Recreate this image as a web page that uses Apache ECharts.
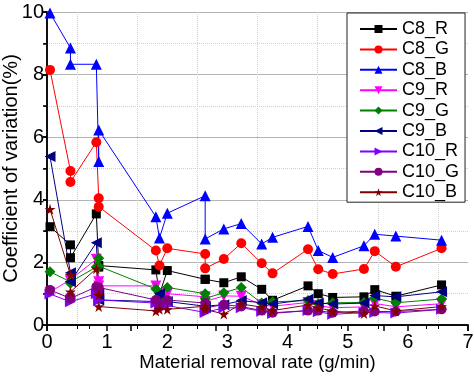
<!DOCTYPE html>
<html>
<head>
<meta charset="utf-8">
<script src="https://cdn.jsdelivr.net/npm/echarts@6/dist/echarts.min.js"></script>
<style>
  html, body { margin: 0; padding: 0; background: #fff; }
  #chart { width: 474px; height: 376px; }
</style>
</head>
<body>
<div id="chart"></div>
<script>
// material removal rate (g/min), shared by all series
const xs = [0.05, 0.39, 0.39, 0.82, 0.86, 0.86, 1.81, 1.87, 2.0, 2.63, 2.63, 2.94,
            3.23, 3.57, 3.75, 4.34, 4.51, 4.75, 5.27, 5.45, 5.8, 6.56];

const c8R  = [3.14, 2.56, 2.15, 3.55, 1.9, 1.85, 1.76, 0.98, 1.74, 1.46, 1.46, 1.35,
              1.54, 1.14, 0.79, 1.25, 1.0, 0.88, 0.9, 1.13, 0.92, 1.28];
const c8G  = [8.15, 4.92, 4.57, 5.84, 4.05, 3.78, 2.38, 1.9, 2.45, 2.27, 1.81, 2.11,
              2.61, 1.97, 1.65, 2.42, 1.78, 1.63, 1.79, 2.36, 1.86, 2.45];
const c8B  = [9.97, 8.85, 8.33, 8.33, 5.22, 6.23, 3.46, 2.78, 3.57, 4.13, 2.75, 3.07,
              3.24, 2.59, 2.8, 3.15, 2.38, 2.16, 2.53, 2.9, 2.84, 2.71];
const c9R  = [1.05, 1.45, 1.4, 2.1, 1.38, 1.25, 1.25, 0.9, 1.0, 0.9, 0.75, 0.93,
              0.92, 0.65, 0.6, 0.72, 0.62, 0.55, 0.58, 0.69, 0.58, 0.68];
const c9G  = [1.7, 1.38, 1.33, 1.85, 2.13, 1.88, 1.15, 0.8, 1.2, 1.0, 0.85, 1.03,
              1.2, 0.7, 0.74, 0.78, 0.68, 0.71, 0.72, 0.86, 0.71, 0.83];
const c9B  = [5.38, 1.67, 1.38, 2.63, 1.0, 0.8, 0.75, 1.0, 0.75, 0.6, 0.55, 0.65,
              0.78, 0.71, 0.67, 0.82, 0.7, 0.67, 0.7, 0.94, 0.9, 1.06];
const c10R = [0.99, 0.74, 0.8, 1.0, 0.8, 0.78, 0.7, 0.55, 0.62, 0.4, 0.45, 0.55,
              0.55, 0.44, 0.37, 0.46, 0.42, 0.34, 0.4, 0.4, 0.38, 0.5];
const c10G = [1.12, 0.85, 0.9, 1.22, 1.12, 1.2, 0.8, 0.65, 0.8, 0.7, 0.55, 0.65,
              0.59, 0.46, 0.39, 0.46, 0.46, 0.39, 0.45, 0.43, 0.43, 0.5];
const c10B = [3.7, 1.6, 1.06, 1.8, 0.95, 0.59, 0.45, 0.5, 0.5, 0.6, 0.5, 0.35,
              0.67, 0.57, 0.46, 0.64, 0.55, 0.44, 0.37, 0.61, 0.45, 0.59];

const names = ['C8_R', 'C8_G', 'C8_B', 'C9_R', 'C9_G', 'C9_B', 'C10_R', 'C10_G', 'C10_B'];
const values = [c8R, c8G, c8B, c9R, c9G, c9B, c10R, c10G, c10B];
const colors = ['#000000', '#ff0000', '#0000ff', '#ff00ff', '#008000', '#000080', '#8000ff', '#800080', '#800000'];

const star = 'path://M50,0 L61,35 L98,35 L68,57 L79,91 L50,70 L21,91 L32,57 L2,35 L39,35 Z';
const symbols = ['rect', 'circle', 'triangle', 'triangle', 'diamond', 'triangle', 'triangle', 'circle', star];
const rotations = [0, 0, 0, 180, 0, 90, -90, 0, 0];
const sizes = [9, 10, 11, 11, 11, 11, 11, 10, 11];

const font = 'Liberation Sans';
const chart = echarts.init(document.getElementById('chart'));

const series = names.map((name, k) => ({
  name: name,
  type: 'line',
  data: xs.map((x, i) => [x, values[k][i]]),
  symbol: symbols[k],
  symbolRotate: rotations[k],
  symbolSize: sizes[k],
  showAllSymbol: true,
  color: colors[k],
  lineStyle: { width: 1, color: colors[k] },
  itemStyle: { color: colors[k] }
}));

chart.setOption({
  animation: false,
  textStyle: { fontFamily: font },
  grid: { left: 47, right: 6, top: 12, bottom: 51, containLabel: false, outerBoundsMode: 'none' },
  legend: {
    orient: 'vertical',
    left: 347,
    top: 13,
    width: 110,
    padding: [7, 6, 1, 12],
    itemWidth: 37,
    itemHeight: 10,
    itemGap: 2.4,
    borderColor: '#222',
    borderWidth: 1,
    backgroundColor: '#fff',
    textStyle: { fontSize: 18, color: '#000', fontFamily: font, lineHeight: 17 },
    data: names
  },
  xAxis: [{
    type: 'value',
    min: 0, max: 7, interval: 1,
    name: 'Material removal rate (g/min)',
    nameLocation: 'middle',
    nameGap: 28,
    nameMoveOverlap: false,
    nameTextStyle: { fontSize: 18.5, color: '#000', fontFamily: font },
    axisLine: { lineStyle: { color: '#000', width: 1.5 } },
    axisTick: { inside: false, length: 6, lineStyle: { color: '#000', width: 1.5 } },
    minorTick: { show: true, splitNumber: 2, length: 4, lineStyle: { color: '#000', width: 1 } },
    axisLabel: { fontSize: 20, color: '#000', margin: 7, fontFamily: font },
    splitLine: { show: false },
    minorSplitLine: { show: true, lineStyle: { color: '#d0d0d0', type: 'dotted', width: 1 } }
  }, {
    type: 'value',
    position: 'top',
    min: 0, max: 10, interval: 2,
    axisLine: { lineStyle: { color: '#000', width: 1.5 } },
    axisTick: { inside: true, length: 6, lineStyle: { color: '#000', width: 1.5 } },
    minorTick: { show: true, splitNumber: 2, length: 4, lineStyle: { color: '#000' } },
    axisLabel: { show: false },
    splitLine: { show: false }
  }],
  yAxis: [{
    type: 'value',
    min: 0, max: 10, interval: 2,
    name: 'Coefficient of variation(%)',
    nameLocation: 'middle',
    nameGap: 26,
    nameMoveOverlap: false,
    nameTextStyle: { fontSize: 20, color: '#000', fontFamily: font },
    axisLine: { show: true, lineStyle: { color: '#000', width: 1.5 } },
    axisTick: { show: true, inside: false, length: 4, lineStyle: { color: '#000', width: 1.5 } },
    minorTick: { show: true, splitNumber: 2, length: 3, lineStyle: { color: '#000' } },
    axisLabel: { fontSize: 20, color: '#000', margin: 3, fontFamily: font },
    splitLine: { show: true, lineStyle: { color: '#b4b4b4', width: 1.2 } },
    minorSplitLine: { show: true, lineStyle: { color: '#d0d0d0', type: 'dotted', width: 1 } }
  }, {
    type: 'value',
    position: 'right',
    min: 0, max: 10, interval: 1,
    axisLine: { show: true, lineStyle: { color: '#000', width: 1.5 } },
    axisTick: { show: true, inside: true, length: 4, lineStyle: { color: '#000', width: 1.5 } },
    axisLabel: { show: false },
    splitLine: { show: false }
  }],
  series: series
});
</script>
</body>
</html>
